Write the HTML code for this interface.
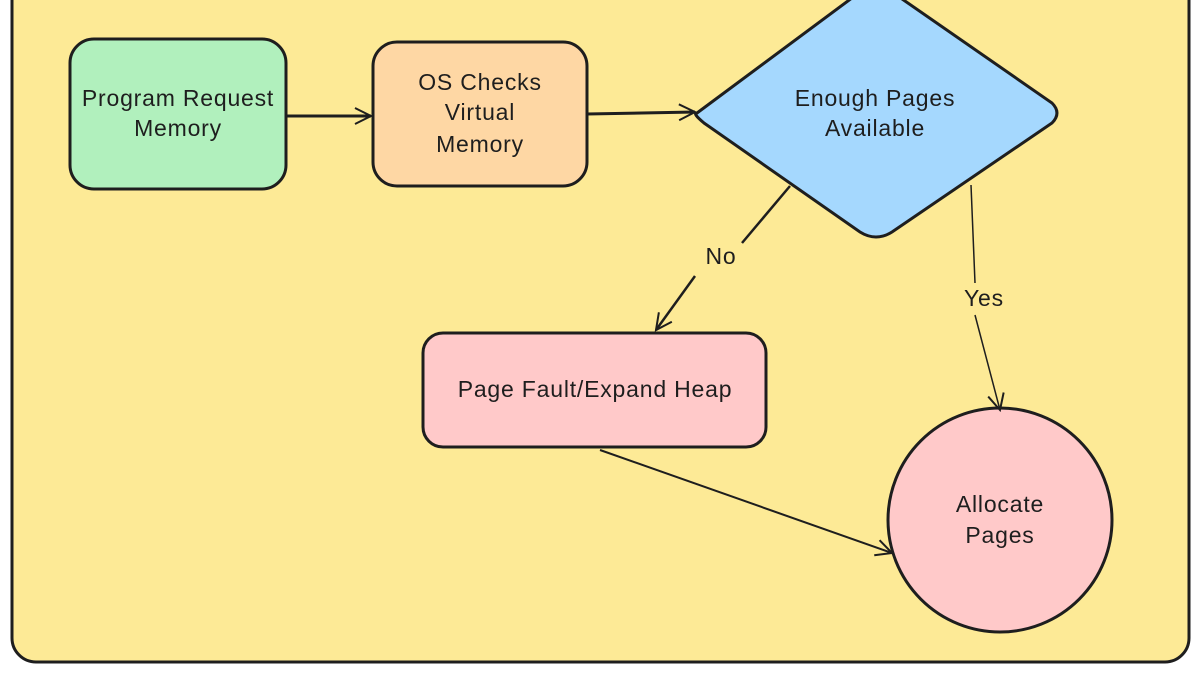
<!DOCTYPE html>
<html><head><meta charset="utf-8"><style>
html,body{margin:0;padding:0;background:#fff;width:1200px;height:675px;overflow:hidden}
text{font-family:"Liberation Sans",sans-serif;font-size:23px;letter-spacing:0.8px;fill:#1e1e1e;text-anchor:middle}
</style></head><body>
<svg width="1200" height="675" viewBox="0 0 1200 675" xmlns="http://www.w3.org/2000/svg">
<defs>
<marker id="a" viewBox="0 0 20 20" refX="18" refY="10" markerWidth="20" markerHeight="20" markerUnits="userSpaceOnUse" orient="auto">
<path d="M2 2 L18 10 L2 18" fill="none" stroke="#1e1e1e" stroke-width="2"/>
</marker>
</defs>
<rect x="12" y="-40" width="1177" height="702" rx="24" fill="#fdea96" stroke="#1e1e1e" stroke-width="3"/>
<rect x="70" y="39" width="216" height="150" rx="24" fill="#b1f0bd" stroke="#1e1e1e" stroke-width="3"/>
<text x="178" y="106">Program Request</text>
<text x="178" y="136">Memory</text>
<rect x="373" y="42" width="214" height="144" rx="24" fill="#fed7a4" stroke="#1e1e1e" stroke-width="3"/>
<text x="480" y="90">OS Checks</text>
<text x="480" y="120">Virtual</text>
<text x="480" y="152">Memory</text>
<path d="M697 113 L860 -8 Q876 -18 892 -8 L1052 103 Q1062 113 1052 123 L892 232 Q876 242 860 232 L704 123 Q692 113 697 113 Z" fill="#a5d8fe" stroke="#1e1e1e" stroke-width="3"/>
<text x="875" y="106">Enough Pages</text>
<text x="875" y="136">Available</text>
<rect x="423" y="333" width="343" height="114" rx="20" fill="#ffc9c9" stroke="#1e1e1e" stroke-width="3"/>
<text x="595" y="397">Page Fault/Expand Heap</text>
<circle cx="1000" cy="520" r="112" fill="#ffc9c9" stroke="#1e1e1e" stroke-width="3"/>
<text x="1000" y="512">Allocate</text>
<text x="1000" y="543">Pages</text>
<line x1="286" y1="116" x2="371" y2="116" stroke="#1e1e1e" stroke-width="3" marker-end="url(#a)"/>
<line x1="587" y1="114" x2="695" y2="112" stroke="#1e1e1e" stroke-width="3" marker-end="url(#a)"/>
<line x1="790" y1="186" x2="742" y2="243" stroke="#1e1e1e" stroke-width="2.5"/>
<line x1="695" y1="276" x2="656" y2="330" stroke="#1e1e1e" stroke-width="2.5" marker-end="url(#a)"/>
<text x="721" y="264">No</text>
<line x1="971" y1="185" x2="975" y2="283" stroke="#1e1e1e" stroke-width="1.5"/>
<line x1="975" y1="315" x2="1000" y2="410" stroke="#1e1e1e" stroke-width="1.5" marker-end="url(#a)"/>
<text x="984" y="306">Yes</text>
<line x1="600" y1="450" x2="892" y2="553" stroke="#1e1e1e" stroke-width="2" marker-end="url(#a)"/>
</svg>
</body></html>
